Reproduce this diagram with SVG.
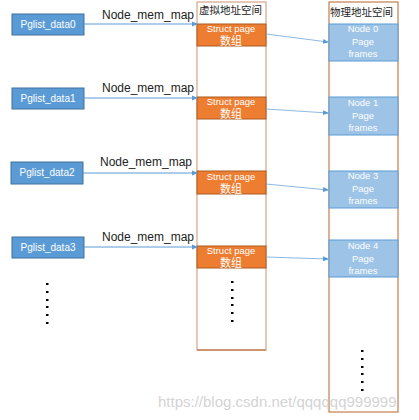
<svg xmlns="http://www.w3.org/2000/svg" width="419" height="420" viewBox="0 0 419 420">
<defs>
<style>
text{font-family:"Liberation Sans","Noto Sans CJK SC",sans-serif}
.pg{fill:#5B9BD5;stroke:#41719C;stroke-width:1}
.pgt{fill:#fff;font-size:10px;text-anchor:middle}
.or{fill:#ED7D31;stroke:#AE5A21;stroke-width:1}
.ort{fill:#fff;font-size:9.5px;text-anchor:middle}
.orc{fill:#fff;font-size:11px;text-anchor:middle}
.nb{fill:#9DC3E6;stroke:#5B9BD5;stroke-width:1}
.nbt{fill:#fff;font-size:9.5px;text-anchor:middle}
.lbl{fill:#222;font-size:12px}
.ttl{fill:#222;font-size:10.5px}
.ar{stroke:#5B9BD5;stroke-width:1;fill:none;marker-end:url(#ah)}
.ar2{stroke:#6FA6DA;stroke-width:0.8;fill:none;marker-end:url(#ah)}
.dot{fill:#000}
</style>
<marker id="ah" markerWidth="6" markerHeight="6" refX="5" refY="3" orient="auto" markerUnits="userSpaceOnUse">
<path d="M0,0.5 L6,3 L0,5.5 z" fill="#5B9BD5"/>
</marker>
</defs>
<rect width="419" height="420" fill="#fff"/>

<g id="virtual-space">
<rect x="197" y="2" width="69" height="348" fill="#fff" stroke="#D4A487" stroke-width="1.2"/>
<line x1="197" y1="350" x2="266" y2="350" stroke="#B8652A" stroke-width="1.2"/>
<text class="ttl" x="199" y="14">虚拟地址空间</text>
</g>
<g id="physical-space">
<rect x="329" y="2" width="69" height="410" fill="#fff" stroke="#B8652A" stroke-width="1"/>
<text class="ttl" x="330" y="16">物理地址空间</text>
</g>

<g id="pglist0"><rect class="pg" x="12" y="14" width="72" height="21"/><text class="pgt" x="48" y="28">Pglist_data0</text></g>
<g id="pglist1"><rect class="pg" x="12" y="88" width="72" height="21"/><text class="pgt" x="48" y="102">Pglist_data1</text></g>
<g id="pglist2"><rect class="pg" x="11" y="162" width="72" height="22"/><text class="pgt" x="47" y="176">Pglist_data2</text></g>
<g id="pglist3"><rect class="pg" x="12" y="237" width="72" height="21"/><text class="pgt" x="48" y="251">Pglist_data3</text></g>

<g id="struct0"><rect class="or" x="197" y="24" width="69" height="22"/><text class="ort" x="231" y="32">Struct page</text><text class="orc" x="231" y="45">数组</text></g>
<g id="struct1"><rect class="or" x="197" y="97" width="69" height="22"/><text class="ort" x="231" y="105">Struct page</text><text class="orc" x="231" y="118">数组</text></g>
<g id="struct2"><rect class="or" x="197" y="171" width="69" height="23"/><text class="ort" x="231" y="180">Struct page</text><text class="orc" x="231" y="193">数组</text></g>
<g id="struct3"><rect class="or" x="197" y="246" width="69" height="22"/><text class="ort" x="231" y="254">Struct page</text><text class="orc" x="231" y="267">数组</text></g>

<g id="node0"><rect class="nb" x="329" y="24" width="69" height="37"/><text class="nbt" x="363" y="32">Node 0</text><text class="nbt" x="363" y="45">Page</text><text class="nbt" x="363" y="57">frames</text></g>
<g id="node1"><rect class="nb" x="329" y="97" width="69" height="38"/><text class="nbt" x="363" y="106">Node 1</text><text class="nbt" x="363" y="119">Page</text><text class="nbt" x="363" y="131">frames</text></g>
<g id="node3"><rect class="nb" x="329" y="171" width="69" height="37"/><text class="nbt" x="363" y="179">Node 3</text><text class="nbt" x="363" y="192">Page</text><text class="nbt" x="363" y="204">frames</text></g>
<g id="node4"><rect class="nb" x="329" y="240" width="69" height="37"/><text class="nbt" x="363" y="249">Node 4</text><text class="nbt" x="363" y="262">Page</text><text class="nbt" x="363" y="274">frames</text></g>

<g id="connectors">
<line class="ar" x1="84" y1="24" x2="197" y2="24"/>
<line class="ar" x1="84" y1="98" x2="197" y2="98"/>
<line class="ar" x1="83" y1="173" x2="197" y2="173"/>
<line class="ar" x1="84" y1="247" x2="197" y2="247"/>
<line class="ar2" x1="266" y1="34" x2="328" y2="42"/>
<line class="ar2" x1="266" y1="109" x2="328" y2="113"/>
<line class="ar2" x1="266" y1="184" x2="328" y2="190"/>
<line class="ar2" x1="266" y1="257" x2="328" y2="259"/>
<text class="lbl" x="102" y="19">Node_mem_map</text>
<text class="lbl" x="102" y="92">Node_mem_map</text>
<text class="lbl" x="100" y="166">Node_mem_map</text>
<text class="lbl" x="102" y="241">Node_mem_map</text>
</g>

<g id="dots">
<rect class="dot" x="46" y="283" width="2.5" height="2"/><rect class="dot" x="46" y="291" width="2.5" height="2"/><rect class="dot" x="46" y="299" width="2.5" height="2"/><rect class="dot" x="46" y="306" width="2.5" height="2"/><rect class="dot" x="46" y="314" width="2.5" height="2"/><rect class="dot" x="46" y="322" width="2.5" height="2"/>
<rect class="dot" x="231" y="281" width="2.5" height="2"/><rect class="dot" x="231" y="289" width="2.5" height="2"/><rect class="dot" x="231" y="297" width="2.5" height="2"/><rect class="dot" x="231" y="304" width="2.5" height="2"/><rect class="dot" x="231" y="312" width="2.5" height="2"/><rect class="dot" x="231" y="320" width="2.5" height="2"/>
<rect class="dot" x="361" y="350" width="2.5" height="2"/><rect class="dot" x="361" y="358" width="2.5" height="2"/><rect class="dot" x="361" y="366" width="2.5" height="2"/><rect class="dot" x="361" y="373" width="2.5" height="2"/><rect class="dot" x="361" y="381" width="2.5" height="2"/><rect class="dot" x="361" y="389" width="2.5" height="2"/>
</g>

<text x="158" y="407" fill="#C8C8C8" fill-opacity="0.8" font-size="15" font-family="Liberation Sans,sans-serif">https://blog.csdn.net/qqqqqq999999</text>
</svg>
